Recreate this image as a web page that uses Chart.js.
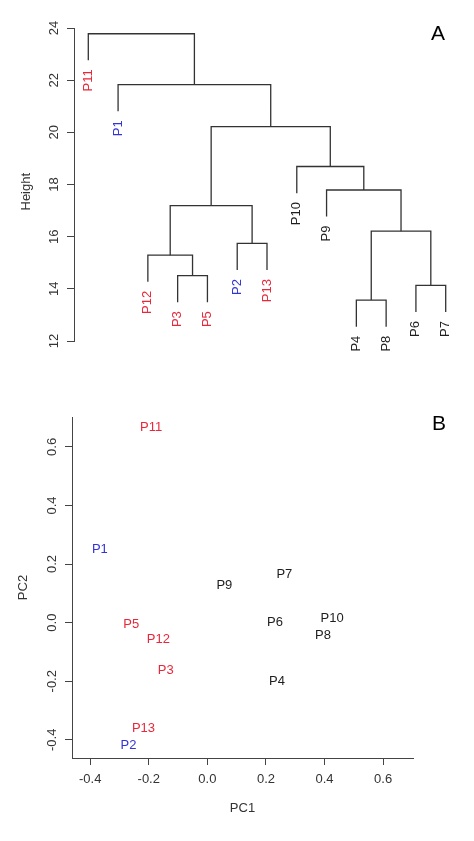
<!DOCTYPE html>
<html>
<head>
<meta charset="utf-8">
<script src="https://cdn.jsdelivr.net/npm/chart.js@4.4.0/dist/chart.umd.min.js"></script>
<style>
body { margin: 0; background: #fff; }
canvas { display: block; }
</style>
</head>
<body>
<canvas id="dendroChart" width="474" height="390"></canvas>
<canvas id="pcaChart" width="474" height="451"></canvas>
<script>
// panel A - hierarchical clustering (merges listed in R order, 'mN' = result of merge N)
var leafOrder   = ['P11', 'P1', 'P12', 'P3', 'P5', 'P2', 'P13', 'P10', 'P9', 'P4', 'P8', 'P6', 'P7'];
var mergeLeft   = ['P4', 'P6', 'P3', 'P12', 'P2', 'm1', 'm4', 'P9', 'P10', 'm7', 'P1', 'P11'];
var mergeRight  = ['P8', 'P7', 'P5', 'm3', 'P13', 'm2', 'm5', 'm6', 'm8', 'm9', 'm10', 'm11'];
var mergeHeight = [13.57, 14.13, 14.51, 15.29, 15.74, 16.21, 17.19, 17.79, 18.69, 20.22, 21.83, 23.78];
var heightTicks = [12, 14, 16, 18, 20, 22, 24];

// panel B - principal components
var pcaNames = ['P1', 'P2', 'P3', 'P4', 'P5', 'P6', 'P7', 'P8', 'P9', 'P10', 'P11', 'P12', 'P13'];
var pc1 = [-0.367, -0.269, -0.142, 0.238, -0.260, 0.231, 0.263, 0.395, 0.058, 0.426, -0.192, -0.167, -0.218];
var pc2 = [0.250, -0.420, -0.163, -0.200, -0.005, 0.002, 0.164, -0.043, 0.127, 0.014, 0.665, -0.058, -0.361];
var pcTicks = [-0.4, -0.2, 0.0, 0.2, 0.4, 0.6];

var redSamples = ['P3', 'P5', 'P11', 'P12', 'P13'];
var blueSamples = ['P1', 'P2'];

var FONT = '"Liberation Sans", Arial, sans-serif';
Chart.defaults.font.family = FONT;
Chart.defaults.font.size = 13;
Chart.defaults.color = '#333';

function colourOf(name) {
  if (redSamples.indexOf(name) >= 0) return '#e8283a';
  if (blueSamples.indexOf(name) >= 0) return '#3434d6';
  return '#1e1e1e';
}

// build the dendrogram segments from the merge table
var hang = 0.1 * (Math.max.apply(null, mergeHeight) - Math.min.apply(null, mergeHeight));
var mergeX = [];
var leafEnd = {};

function nodeX(id) {
  if (id.charAt(0) === 'm') return mergeX[+id.slice(1) - 1];
  return leafOrder.indexOf(id) + 1;
}
function nodeY(id, parentH) {
  if (id.charAt(0) === 'm') return mergeHeight[+id.slice(1) - 1];
  leafEnd[id] = parentH - hang;
  return parentH - hang;
}

var dendroSets = mergeHeight.map(function(h, i) {
  var xl = nodeX(mergeLeft[i]), xr = nodeX(mergeRight[i]);
  mergeX[i] = (xl + xr) / 2;
  return {
    data: [
      {x: xl, y: nodeY(mergeLeft[i], h)},
      {x: xl, y: h},
      {x: xr, y: h},
      {x: xr, y: nodeY(mergeRight[i], h)}
    ],
    showLine: true,
    borderColor: '#333',
    borderWidth: 1.3,
    pointRadius: 0,
    tension: 0
  };
});

var leafLabels = {
  id: 'leafLabels',
  afterDatasetsDraw: function(chart) {
    var ctx = chart.ctx, xs = chart.scales.x, ys = chart.scales.y;
    ctx.save();
    ctx.font = '13px ' + FONT;
    ctx.textAlign = 'right';
    ctx.textBaseline = 'middle';
    leafOrder.forEach(function(name, i) {
      ctx.save();
      ctx.translate(xs.getPixelForValue(i + 1), ys.getPixelForValue(leafEnd[name]) + 9);
      ctx.rotate(-Math.PI / 2);
      ctx.fillStyle = colourOf(name);
      ctx.fillText(name, 0, 0);
      ctx.restore();
    });
    ctx.restore();
  }
};

var pointLabels = {
  id: 'pointLabels',
  afterDatasetsDraw: function(chart) {
    var ctx = chart.ctx;
    var meta = chart.getDatasetMeta(0);
    ctx.save();
    ctx.font = '13px ' + FONT;
    ctx.textAlign = 'center';
    ctx.textBaseline = 'middle';
    meta.data.forEach(function(pt, i) {
      ctx.fillStyle = colourOf(pcaNames[i]);
      ctx.fillText(pcaNames[i], pt.x, pt.y);
    });
    ctx.restore();
  }
};

var panelLetter = {
  id: 'panelLetter',
  afterDraw: function(chart, args, opts) {
    var ctx = chart.ctx;
    ctx.save();
    ctx.font = '21px ' + FONT;
    ctx.fillStyle = '#000';
    ctx.textAlign = 'center';
    ctx.textBaseline = 'middle';
    ctx.fillText(opts.text, opts.x, opts.y);
    ctx.restore();
  }
};

function rAxis(extra) {
  var base = {
    border: {color: '#444', width: 1},
    grid: {drawOnChartArea: false, tickLength: 7, tickColor: '#444', tickWidth: 1}
  };
  for (var k in extra) base[k] = extra[k];
  return base;
}

var dendroChart = new Chart(document.getElementById('dendroChart').getContext('2d'), {
  type: 'scatter',
  data: {datasets: dendroSets},
  options: {
    responsive: false,
    animation: false,
    layout: {padding: {left: 0, top: 28, right: 14, bottom: 49}},
    plugins: {
      legend: {display: false},
      tooltip: {enabled: false},
      panelLetter: {text: 'A', x: 438, y: 34}
    },
    scales: {
      x: {type: 'linear', min: 0.52, max: 13.48, display: false},
      y: rAxis({
        min: 12,
        max: 24,
        afterBuildTicks: function(s) { s.ticks = heightTicks.map(function(v) { return {value: v}; }); },
        afterFit: function(s) { s.width = 74; },
        ticks: {minRotation: 90, maxRotation: 90, crossAlign: 'center', padding: 5, color: '#333'},
        // trailing spaces push the rotated title a little lower, as in the original
        title: {display: true, text: 'Height    ', color: '#333', padding: {top: 19, bottom: 0}}
      })
    }
  },
  plugins: [leafLabels, panelLetter]
});

var pcaChart = new Chart(document.getElementById('pcaChart').getContext('2d'), {
  type: 'scatter',
  data: {
    datasets: [{
      data: pc1.map(function(x, i) { return {x: x, y: pc2[i]}; }),
      pointRadius: 0
    }]
  },
  options: {
    responsive: false,
    animation: false,
    layout: {padding: {left: 0, top: 27, right: 61, bottom: 23}},
    plugins: {
      legend: {display: false},
      tooltip: {enabled: false},
      panelLetter: {text: 'B', x: 439, y: 34}
    },
    scales: {
      x: rAxis({
        min: -0.462,
        max: 0.702,
        afterBuildTicks: function(s) { s.ticks = pcTicks.map(function(v) { return {value: v}; }); },
        afterFit: function(s) { s.height = 60; },
        ticks: {padding: 7, color: '#333', maxRotation: 0, callback: function(v) { return v.toFixed(1); }},
        title: {display: true, text: 'PC1', color: '#333', padding: {top: 0, bottom: 2}}
      }),
      y: rAxis({
        min: -0.462,
        max: 0.702,
        afterBuildTicks: function(s) { s.ticks = pcTicks.map(function(v) { return {value: v}; }); },
        afterFit: function(s) { s.width = 72; },
        ticks: {minRotation: 90, maxRotation: 90, crossAlign: 'center', padding: 1, color: '#333',
                callback: function(v) { return v.toFixed(1); }},
        title: {display: true, text: 'PC2', color: '#333', padding: {top: 16, bottom: 0}}
      })
    }
  },
  plugins: [pointLabels, panelLetter]
});
</script>
</body>
</html>
